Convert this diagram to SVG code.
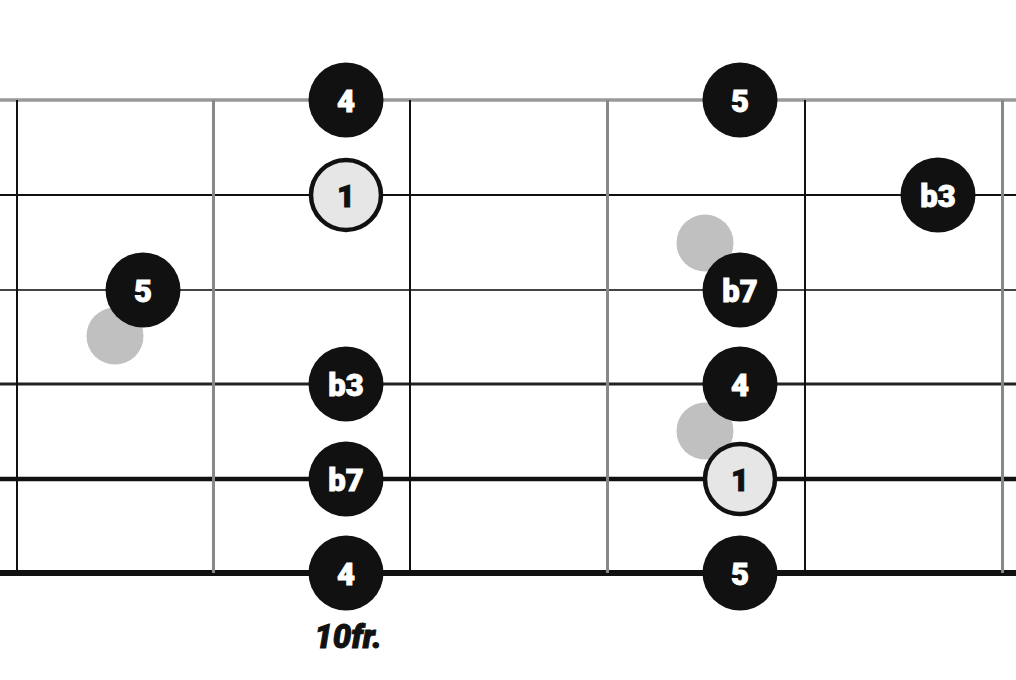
<svg xmlns="http://www.w3.org/2000/svg" width="1016" height="680" viewBox="0 0 1016 680">
<style>
.fb{stroke:#111;stroke-width:2}
.fg{stroke:#888;stroke-width:3}
.dot{fill:#111}
.root{fill:#e6e6e6;stroke:#111;stroke-width:4.5}
.ghost{fill:#c0c0c0}
.lbl{font-family:Roboto,"Liberation Sans",sans-serif;font-weight:900;font-size:31px;text-anchor:middle;fill:#fff;stroke:#fff;stroke-width:0.9}
.lbl.dk{fill:#111;stroke:#111}
.fr{font-family:Roboto,"Liberation Sans",sans-serif;font-weight:900;font-style:italic;font-size:33px;text-anchor:middle;fill:#111;stroke:#111;stroke-width:0.9}
</style>
<rect width="1016" height="680" fill="#fff"/>
<g id="fretboard">
<line x1="0" y1="100" x2="1016" y2="100" stroke="#999" stroke-width="3.5"/>
<line x1="0" y1="195" x2="1016" y2="195" stroke="#111" stroke-width="2"/>
<line x1="0" y1="290" x2="1016" y2="290" stroke="#444" stroke-width="2"/>
<line x1="0" y1="384" x2="1016" y2="384" stroke="#222" stroke-width="3"/>
<line x1="0" y1="479" x2="1016" y2="479" stroke="#111" stroke-width="4.5"/>
<line x1="0" y1="573" x2="1016" y2="573" stroke="#111" stroke-width="6"/>
<line class="fb" x1="17" y1="100" x2="17" y2="573"/>
<line class="fg" x1="213.5" y1="100" x2="213.5" y2="573"/>
<line class="fb" x1="410" y1="100" x2="410" y2="573"/>
<line class="fg" x1="607.5" y1="100" x2="607.5" y2="573"/>
<line class="fb" x1="805" y1="100" x2="805" y2="573"/>
<line class="fg" x1="1002.5" y1="100" x2="1002.5" y2="573"/>
</g>
<g id="ghosts">
<circle class="ghost" cx="115" cy="336" r="28.5"/>
<circle class="ghost" cx="705" cy="243" r="28.5"/>
<circle class="ghost" cx="705" cy="431" r="28.5"/>
</g>
<g id="n1"><circle class="dot" cx="346" cy="100" r="37.5"/><text class="lbl" x="346" y="111.5">4</text></g>
<g id="n2"><circle class="root" cx="346" cy="195" r="35"/><text class="lbl dk" x="346" y="206.5">1</text></g>
<g id="n3"><circle class="dot" cx="143" cy="290" r="37.5"/><text class="lbl" x="143" y="301.5">5</text></g>
<g id="n4"><circle class="dot" cx="346" cy="384" r="37.5"/><text class="lbl" x="346" y="395.5">b3</text></g>
<g id="n5"><circle class="dot" cx="346" cy="479" r="37.5"/><text class="lbl" x="346" y="490.5">b7</text></g>
<g id="n6"><circle class="dot" cx="346" cy="573" r="37.5"/><text class="lbl" x="346" y="584.5">4</text></g>
<g id="n7"><circle class="dot" cx="740" cy="100" r="37.5"/><text class="lbl" x="740" y="111.5">5</text></g>
<g id="n8"><circle class="dot" cx="938" cy="195" r="37.5"/><text class="lbl" x="938" y="206.5">b3</text></g>
<g id="n9"><circle class="dot" cx="740" cy="290" r="37.5"/><text class="lbl" x="740" y="301.5">b7</text></g>
<g id="n10"><circle class="dot" cx="740" cy="384" r="37.5"/><text class="lbl" x="740" y="395.5">4</text></g>
<g id="n11"><circle class="root" cx="740" cy="479" r="35"/><text class="lbl dk" x="740" y="490.5">1</text></g>
<g id="n12"><circle class="dot" cx="740" cy="573" r="37.5"/><text class="lbl" x="740" y="584.5">5</text></g>
<g id="fret-label"><text class="fr" x="348" y="648">10fr.</text></g>
<g id="connectors"/>
</svg>
